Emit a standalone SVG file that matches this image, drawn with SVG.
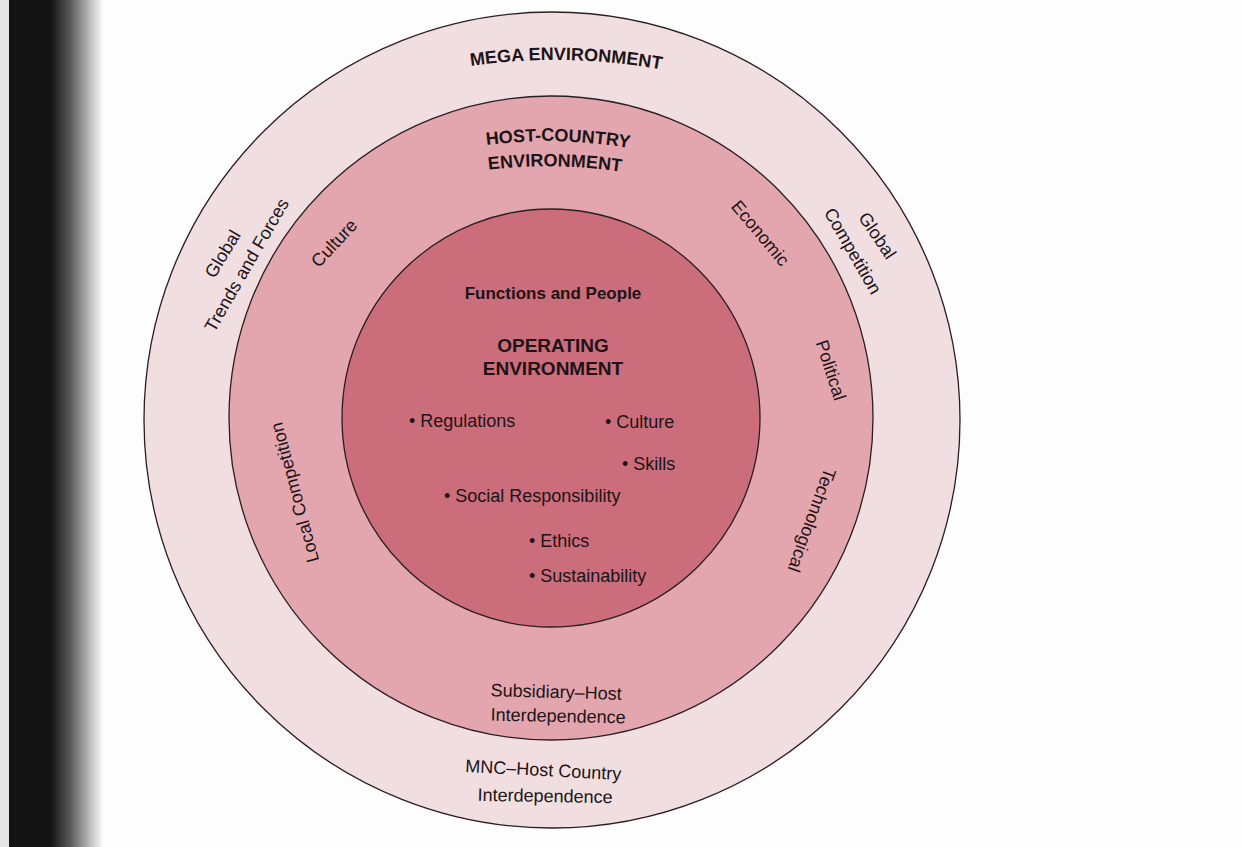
<svg xmlns="http://www.w3.org/2000/svg" width="1243" height="847" viewBox="0 0 1243 847">
  <defs>
    <linearGradient id="spine" x1="0" y1="0" x2="1" y2="0">
      <stop offset="0" stop-color="#141414"/>
      <stop offset="0.35" stop-color="#555555"/>
      <stop offset="1" stop-color="#fdfdfd"/>
    </linearGradient>
    <path id="arcMega" d="M 355 94.3 A 600 600 0 0 1 755 94.3"/>
    <path id="arcHost1" d="M 348 183.1 A 500 500 0 0 1 748 183.1"/>
    <path id="arcHost2" d="M 348 208.1 A 500 500 0 0 1 748 208.1"/>
    <style>
      .ring { stroke: #2a1e20; stroke-width: 1.3; }
      .lbl { font-family: "Liberation Sans", Arial, sans-serif; font-size: 18px; fill: #1c1416; }
      .bold { font-weight: bold; }
      .mid { text-anchor: middle; }
    </style>
  </defs>

  <!-- page -->
  <rect x="0" y="0" width="1243" height="847" fill="#fdfdfd"/>
  <rect x="0" y="0" width="9" height="847" fill="#e6e6e6"/>
  <rect x="9" y="0" width="42" height="847" fill="#141414"/>
  <rect x="51" y="0" width="52" height="847" fill="url(#spine)"/>

  <!-- rings -->
  <g id="mega-environment">
    <circle class="ring" cx="552" cy="420" r="408" fill="#f1dee1"/>
  </g>
  <g id="host-country-environment">
    <circle class="ring" cx="551" cy="418" r="322" fill="#e4a6ae"/>
  </g>
  <g id="operating-environment">
    <circle class="ring" cx="551" cy="418" r="209" fill="#cc6d7c"/>
  </g>

  <!-- mega environment labels -->
  <g id="mega-labels" class="lbl">
    <text class="bold mid" font-size="18"><textPath href="#arcMega" startOffset="215">MEGA ENVIRONMENT</textPath></text>
    <text class="mid" transform="translate(228,257) rotate(-59)">Global</text>
    <text class="mid" transform="translate(252,268) rotate(-60)">Trends and Forces</text>
    <text class="mid" transform="translate(872.3,239) rotate(56)">Global</text>
    <text class="mid" transform="translate(847.5,254) rotate(60)">Competition</text>
    <text class="mid" transform="translate(543,776) rotate(3)">MNC–Host Country</text>
    <text class="mid" transform="translate(545,802) rotate(1)">Interdependence</text>
  </g>

  <!-- host-country labels -->
  <g id="host-labels" class="lbl">
    <text class="bold mid"><textPath href="#arcHost1" startOffset="215.7">HOST-COUNTRY</textPath></text>
    <text class="bold mid"><textPath href="#arcHost2" startOffset="212.7">ENVIRONMENT</textPath></text>
    <text class="mid" transform="translate(338.6,247.3) rotate(-47)">Culture</text>
    <text class="mid" transform="translate(755.7,237) rotate(50)">Economic</text>
    <text class="mid" transform="translate(825,372) rotate(72)">Political</text>
    <text class="mid" transform="translate(806,518) rotate(110)">Technological</text>
    <text class="mid" transform="translate(300.6,491) rotate(-105)">Local Competition</text>
    <text class="mid" transform="translate(556,698) rotate(1.6)">Subsidiary–Host</text>
    <text class="mid" transform="translate(558,722) rotate(1.2)">Interdependence</text>
  </g>

  <!-- operating environment labels -->
  <g id="operating-labels" class="lbl">
    <text class="bold mid" x="553" y="299" font-size="17">Functions and People</text>
    <text class="bold mid" x="553" y="352" font-size="19">OPERATING</text>
    <text class="bold mid" x="553" y="375" font-size="19">ENVIRONMENT</text>
    <text x="409" y="427">• Regulations</text>
    <text x="605" y="428">• Culture</text>
    <text x="622" y="470">• Skills</text>
    <text x="444" y="502">• Social Responsibility</text>
    <text x="529" y="547">• Ethics</text>
    <text x="529" y="582">• Sustainability</text>
  </g>
</svg>
